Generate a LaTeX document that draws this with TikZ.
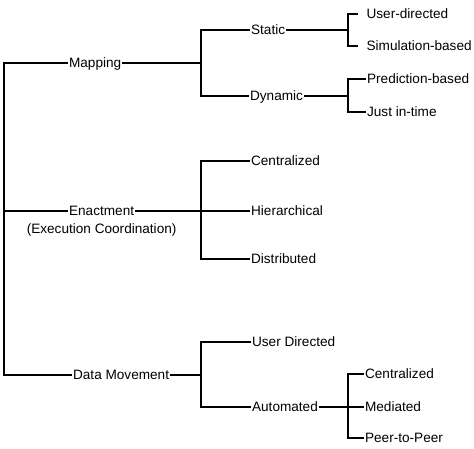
\documentclass[tikz,border=0pt]{standalone}
\usepackage{fontspec}
\setmainfont{Liberation Sans}
\usetikzlibrary{positioning}

\begin{document}
\begin{tikzpicture}[
  x=1pt, y=-1pt,
  font=\fontsize{13.6}{16}\selectfont,
  line width=1.2pt,
  lbl/.style={inner sep=0.5pt, text height=9.8pt, text depth=0pt, anchor=west},
  farlbl/.style={lbl, inner xsep=8pt},
]
\useasboundingbox (0,0) rectangle (474,448);

% ---------- first level ----------
\node[lbl] (map) at (68,63) {Mapping};
\node[lbl] (enact) at (68,211) {Enactment};
\node[lbl, anchor=north, below=5.2pt of enact] (enactsub) {(Execution Coordination)};
\node[lbl] (data) at (72,375) {Data Movement};
\coordinate (rootj) at (4,211);
\draw (map.west) -| (rootj) |- (data.west);
\draw (rootj) -- (enact.west);

% ---------- mapping ----------
\node[lbl] (stat) at (250,30) {Static};
\node[lbl] (dyn) at (249,96) {Dynamic};
\coordinate (mapj) at (201,63);
\draw (map.east) -- (mapj);
\draw (stat.west) -| (mapj) |- (dyn.west);

\node[farlbl] (userdir) at (358,14) {User-directed};
\node[farlbl] (simul) at (358,46) {Simulation-based};
\coordinate (statj) at (348,30);
\draw (stat.east) -- (statj);
\draw (userdir.west) -| (statj) |- (simul.west);

\node[lbl] (pred) at (366,79) {Prediction-based};
\node[lbl] (jit) at (366,112) {Just in-time};
\coordinate (dynj) at (348,96);
\draw (dyn.east) -- (dynj);
\draw (pred.west) -| (dynj) |- (jit.west);

% ---------- enactment ----------
\node[lbl] (encen) at (250,161) {Centralized};
\node[lbl] (enhier) at (250,211) {Hierarchical};
\node[lbl] (endist) at (250,259) {Distributed};
\coordinate (enj) at (201,211);
\draw (enact.east) -- (enhier.west);
\draw (encen.west) -| (enj) |- (endist.west);

% ---------- data movement ----------
\node[lbl] (userd) at (251,342) {User Directed};
\node[lbl] (auto) at (251,407) {Automated};
\coordinate (dataj) at (201,375);
\draw (data.east) -- (dataj);
\draw (userd.west) -| (dataj) |- (auto.west);

\node[lbl] (dmcen) at (364,374) {Centralized};
\node[lbl] (dmmed) at (364,407) {Mediated};
\node[lbl] (dmp2p) at (364,438) {Peer-to-Peer};
\coordinate (autoj) at (348,407);
\draw (auto.east) -- (dmmed.west);
\draw (dmcen.west) -| (autoj) |- (dmp2p.west);
\end{tikzpicture}
\end{document}
